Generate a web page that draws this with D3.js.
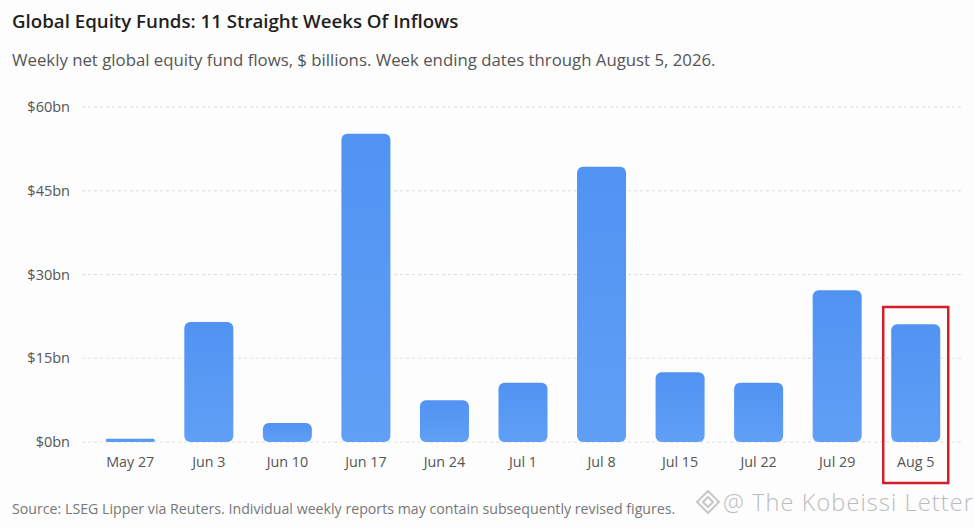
<!DOCTYPE html>
<html>
<head>
<meta charset="utf-8">
<script src="https://cdn.jsdelivr.net/npm/d3@7"></script>
<style>
  html, body { margin: 0; padding: 0; background: #fdfdfd; }
  svg { display: block; font-family: "Open Sans", "Noto Sans", sans-serif; }
</style>
</head>
<body>
<div id="chart"></div>
<script>

// weekly net flows, $bn
var weeks = ["May 27", "Jun 3", "Jun 10", "Jun 17", "Jun 24", "Jul 1", "Jul 8", "Jul 15", "Jul 22", "Jul 29", "Aug 5"];
var flows = [0.6, 21.5, 3.4, 55.2, 7.5, 10.6, 49.3, 12.5, 10.6, 27.2, 21.1];
var yTicks = [0, 15, 30, 45, 60];
var highlight = "Aug 5";

var W = 974, H = 528;

var svg = d3.select("#chart")
    .append("svg")
    .attr("width", W)
    .attr("height", H);

svg.append("rect").attr("width", W).attr("height", H).attr("fill", "#fdfdfd");

// titles
svg.append("text")
    .attr("x", 12).attr("y", 28)
    .attr("font-size", "18.7px")
    .attr("font-weight", 600)
    .attr("fill", "#1f1f1f")
    .text("Global Equity Funds: 11 Straight Weeks Of Inflows");

svg.append("text")
    .attr("x", 12).attr("y", 66)
    .attr("font-size", "16.8px")
    .attr("fill", "#555")
    .text("Weekly net global equity fund flows, $ billions. Week ending dates through August 5, 2026.");

var x = d3.scaleBand()
    .domain(weeks)
    .range([91, 955])
    .paddingInner(0.376)
    .paddingOuter(0.188);

var y = d3.scaleLinear()
    .domain([0, 60])
    .range([442, 107]);

// gridlines
svg.append("g")
    .selectAll("line")
    .data(yTicks)
    .enter()
    .append("line")
    .attr("x1", 82).attr("x2", 963)
    .attr("y1", function(d) { return y(d); })
    .attr("y2", function(d) { return y(d); })
    .attr("stroke", "#dcdcdc")
    .attr("stroke-width", 1)
    .attr("stroke-dasharray", "3,3");

// y labels
svg.append("g")
    .selectAll("text")
    .data(yTicks)
    .enter()
    .append("text")
    .attr("x", 70)
    .attr("y", function(d) { return y(d); })
    .attr("dy", "0.35em")
    .attr("text-anchor", "end")
    .attr("font-size", "14.5px")
    .attr("fill", "#555")
    .text(function(d) { return "$" + d + "bn"; });

// bar gradient
var grad = svg.append("defs").append("linearGradient")
    .attr("id", "barGrad")
    .attr("x1", 0).attr("y1", 0).attr("x2", 0).attr("y2", 1);
grad.append("stop").attr("offset", "0%").attr("stop-color", "#5093f2");
grad.append("stop").attr("offset", "100%").attr("stop-color", "#609ff5");

// bars
svg.append("g")
    .selectAll("rect")
    .data(flows)
    .enter()
    .append("rect")
    .attr("x", function(d, i) { return x(weeks[i]); })
    .attr("y", function(d) { return y(d); })
    .attr("width", x.bandwidth())
    .attr("height", function(d) { return y(0) - y(d); })
    .attr("rx", function(d) { return Math.min(6, (y(0) - y(d)) / 2); })
    .attr("fill", "url(#barGrad)");

// x labels
svg.append("g")
    .selectAll("text")
    .data(weeks)
    .enter()
    .append("text")
    .attr("x", function(d) { return x(d) + x.bandwidth() / 2; })
    .attr("y", 467)
    .attr("text-anchor", "middle")
    .attr("font-size", "14.3px")
    .attr("fill", "#555")
    .text(function(d) { return d; });

// red box round the last week
var hx = x(highlight);
svg.append("rect")
    .attr("x", hx - 8)
    .attr("y", 307)
    .attr("width", x.bandwidth() + 16)
    .attr("height", 176)
    .attr("fill", "none")
    .attr("stroke", "#d0212b")
    .attr("stroke-width", 2.5);

// footer
svg.append("text")
    .attr("x", 12).attr("y", 514)
    .attr("font-size", "14.2px")
    .attr("fill", "#777")
    .text("Source: LSEG Lipper via Reuters. Individual weekly reports may contain subsequently revised figures.");

// watermark
var wm = svg.append("g").attr("transform", "translate(708,502)");
wm.append("path")
    .attr("d", "M0,-11 L11,0 L0,11 L-11,0 Z")
    .attr("fill", "none").attr("stroke", "#c8c8c8").attr("stroke-width", 2);
wm.append("path")
    .attr("d", "M-5,0 L0,-5 L5,0 L0,5 Z")
    .attr("fill", "none").attr("stroke", "#c8c8c8").attr("stroke-width", 2);
svg.append("text")
    .attr("x", 723).attr("y", 511)
    .attr("font-size", "23.5px")
    .attr("font-weight", 300)
    .attr("letter-spacing", "1.1px")
    .attr("fill", "#bcbcbc")
    .text("@ The Kobeissi Letter");

</script>
</body>
</html>
